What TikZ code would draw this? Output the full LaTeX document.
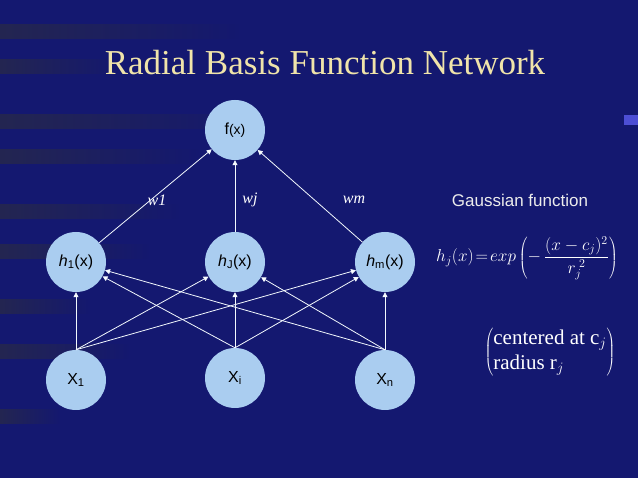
\documentclass[tikz,border=0pt]{standalone}
\usepackage{fontspec}
\setmainfont{Liberation Serif}
\setsansfont{Liberation Sans}
\usetikzlibrary{arrows.meta}
\definecolor{bg}{RGB}{20,24,112}
\definecolor{nodeblue}{RGB}{170,205,240}
\definecolor{titlecol}{RGB}{240,228,170}
\begin{document}
\begin{tikzpicture}[x=1pt,y=-1pt,
  neuron/.style={circle,fill=nodeblue,minimum size=60pt,inner sep=0pt,font=\sffamily\fontsize{16}{18}\selectfont,text=black},
  link/.style={draw=white!85!nodeblue,line width=0.8pt,-{Triangle[width=5pt,length=5pt,fill=white]}},
  wlab/.style={text=white,font=\itshape\fontsize{16}{18}\selectfont}]
\useasboundingbox (0,0) rectangle (638,478);
\fill[bg] (0,0) rectangle (638,478);
\foreach \y/\w in {25/240,60/120,115/260,150/200,205/180,245/150,300/90,345/130,410/60}
  \shade[left color=black!80,right color=bg,opacity=0.5] (0,\y) rectangle (\w,\y+14);
\fill[blue!60!white,opacity=0.7] (624,115) rectangle (638,125);
\node[text=titlecol,font=\fontsize{35}{40}\selectfont] (title) at (325,63) {Radial Basis Function Network};
\node[neuron] (f) at (235,130) {f\fontsize{14}{16}\selectfont(x)};
\node[neuron] (h1) at (76,262) {\textit{h}\textsubscript{1}(x)};
\node[neuron] (hj) at (235,262) {\textit{h}\textsubscript{J}(x)};
\node[neuron] (hm) at (385,262) {\textit{h}\textsubscript{m}(x)};
\node[neuron] (x1) at (76,380) {X\textsubscript{1}};
\node[neuron] (xi) at (235,378) {X\textsubscript{i}};
\node[neuron] (xn) at (385,380) {X\textsubscript{n}};
\draw[link] (h1) -- (f);
\draw[link] (hj) -- (f);
\draw[link] (hm) -- (f);
\node[wlab] (w1) at (157,200) {w1};
\node[wlab] (wj) at (250,200) {wj};
\node[wlab] (wm) at (354,200) {wm};
\foreach \s in {x1,xi,xn} \foreach \t in {h1,hj,hm} \draw[link] (\s.north) -- (\t);
\node[text=white!85!gray,font=\sffamily\fontsize{17}{19}\selectfont] (g) at (520,200) {Gaussian function};
\node[text=white,font=\fontsize{18}{21}\selectfont] (eq) at (527,258) {$h_j(x)\!=\!exp\left(-\,\displaystyle\frac{(x-c_j)^2}{r_j^{\;2}}\right)$};
\node[text=white,font=\fontsize{21}{25}\selectfont] (cr) at (550,352) {$\left(\begin{tabular}{@{}l@{}}centered at c$_j$\\ radius r$_j$\end{tabular}\right)$};
\end{tikzpicture}
\end{document}
